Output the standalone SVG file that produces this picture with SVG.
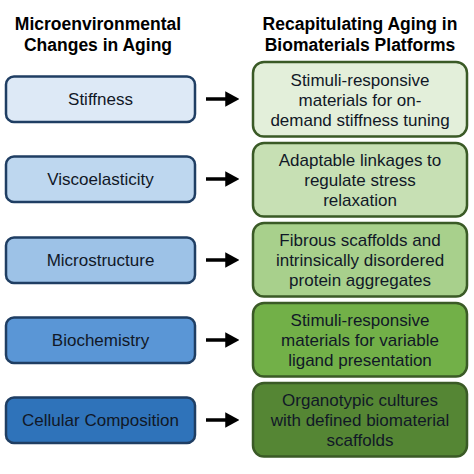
<svg xmlns="http://www.w3.org/2000/svg" width="474" height="474" viewBox="0 0 474 474">
<defs>
<style>
.t{font-family:"Liberation Sans",Arial,sans-serif;font-size:17px;text-anchor:middle;fill:#111827}
.h{font-family:"Liberation Sans",Arial,sans-serif;font-size:17.5px;font-weight:bold;text-anchor:middle;fill:#000}
.lb{stroke:#1f3e63;stroke-width:2.5}
.rb{stroke:#3a5a26;stroke-width:2.5}
.ar{stroke:#000;stroke-width:3.5;fill:none}
</style>
<marker id="ah" markerWidth="4" markerHeight="4.4" refX="0.5" refY="2.2" orient="auto" markerUnits="strokeWidth" viewBox="0 0 4 4.4">
<path d="M0,0 L4,2.2 L0,4.4 Z" fill="#000"/>
</marker>
</defs>
<rect width="474" height="474" fill="#fff"/>
<g id="headers">
<text class="h" x="98" y="30">Microenvironmental</text>
<text class="h" x="98" y="51">Changes in Aging</text>
<text class="h" x="360" y="30">Recapitulating Aging in</text>
<text class="h" x="360" y="51">Biomaterials Platforms</text>
</g>
<g id="left-stiffness"><rect class="lb" x="6" y="76.5" width="189" height="45.5" rx="8" fill="#dde9f6"/><text class="t" x="100.5" y="105">Stiffness</text></g>
<g id="left-viscoelasticity"><rect class="lb" x="6" y="156.5" width="189" height="45.5" rx="8" fill="#bed7ef"/><text class="t" x="100.5" y="185">Viscoelasticity</text></g>
<g id="left-microstructure"><rect class="lb" x="6" y="237.5" width="189" height="45.5" rx="8" fill="#9dc2e7"/><text class="t" x="100.5" y="266">Microstructure</text></g>
<g id="left-biochemistry"><rect class="lb" x="6" y="317.5" width="189" height="45.5" rx="8" fill="#5a96d6"/><text class="t" x="100.5" y="346">Biochemistry</text></g>
<g id="left-cellular"><rect class="lb" x="6" y="397.5" width="189" height="45.5" rx="8" fill="#2f73ba"/><text class="t" x="100.5" y="426">Cellular Composition</text></g>
<g id="right-1"><rect class="rb" x="253" y="62" width="214" height="74.5" rx="11" fill="#e3efda"/>
<text class="t" x="360" y="86">Stimuli-responsive</text><text class="t" x="360" y="106">materials for on-</text><text class="t" x="360" y="126">demand stiffness tuning</text></g>
<g id="right-2"><rect class="rb" x="253" y="143" width="214" height="73.5" rx="11" fill="#c7e0b4"/>
<text class="t" x="360" y="166">Adaptable linkages to</text><text class="t" x="360" y="186">regulate stress</text><text class="t" x="360" y="206">relaxation</text></g>
<g id="right-3"><rect class="rb" x="253" y="223" width="214" height="73.5" rx="11" fill="#a8d08c"/>
<text class="t" x="360" y="246">Fibrous scaffolds and</text><text class="t" x="360" y="266">intrinsically disordered</text><text class="t" x="360" y="286">protein aggregates</text></g>
<g id="right-4"><rect class="rb" x="253" y="303" width="214" height="73.5" rx="11" fill="#72b048"/>
<text class="t" x="360" y="326">Stimuli-responsive</text><text class="t" x="360" y="346">materials for variable</text><text class="t" x="360" y="366">ligand presentation</text></g>
<g id="right-5"><rect class="rb" x="253" y="383" width="214" height="73.5" rx="11" fill="#558634"/>
<text class="t" x="360" y="406">Organotypic cultures</text><text class="t" x="360" y="426">with defined biomaterial</text><text class="t" x="360" y="446">scaffolds</text></g>
<g id="connectors">
<line class="ar" x1="206" y1="99" x2="227" y2="99" marker-end="url(#ah)"/>
<line class="ar" x1="206" y1="179" x2="227" y2="179" marker-end="url(#ah)"/>
<line class="ar" x1="206" y1="260" x2="227" y2="260" marker-end="url(#ah)"/>
<line class="ar" x1="206" y1="340" x2="227" y2="340" marker-end="url(#ah)"/>
<line class="ar" x1="206" y1="420" x2="227" y2="420" marker-end="url(#ah)"/>
</g>
</svg>
